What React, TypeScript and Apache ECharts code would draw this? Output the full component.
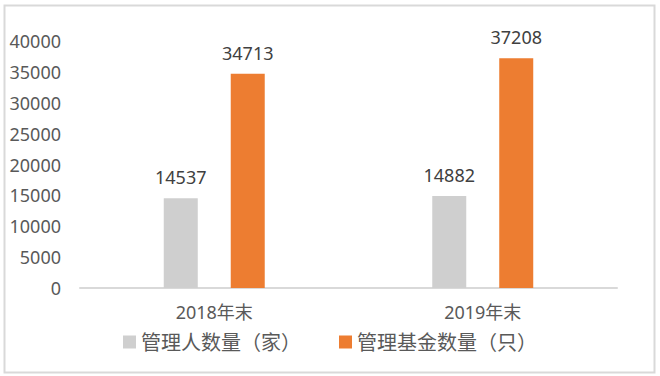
import React, { useEffect, useRef } from "react";
import * as echarts from "echarts";

const categories = ["2018年末", "2019年末"];
const managers = [14537, 14882];
const funds = [34713, 37208];
const seriesNames = ["管理人数量（家）", "管理基金数量（只）"];

const FONT = "'Noto Sans', 'Noto Sans CJK SC', sans-serif";

export default function App() {
  const ref = useRef<HTMLDivElement>(null);
  useEffect(() => {
    const chart = echarts.init(ref.current!, null, { renderer: "svg" });
    chart.setOption({
      animation: false,
      backgroundColor: "#ffffff",
      textStyle: { fontFamily: FONT },
      graphic: [
        {
          type: "rect",
          shape: { x: 4.5, y: 5.5, width: 650, height: 367 },
          style: { fill: "none", stroke: "#d9d9d9", lineWidth: 2 },
          silent: true,
        },
      ],
      grid: { left: 80, right: 43, top: 41, bottom: 88 },
      legend: {
        bottom: 19,
        left: "center",
        itemWidth: 13,
        itemHeight: 13,
        itemGap: 38,
        icon: "rect",
        textStyle: { fontSize: 20, color: "#595959", fontFamily: FONT },
        data: seriesNames,
      },
      xAxis: {
        type: "category",
        data: categories,
        axisLine: { lineStyle: { color: "#d9d9d9", width: 2 } },
        axisTick: { show: false },
        axisLabel: { fontSize: 18, color: "#595959", margin: 15, fontFamily: FONT },
      },
      yAxis: {
        type: "value",
        min: 0,
        max: 40000,
        interval: 5000,
        splitLine: { show: false },
        axisLine: { show: false },
        axisTick: { show: false },
        axisLabel: {
          fontSize: 18,
          color: "#595959",
          margin: 19,
          fontFamily: FONT,
          formatter: (v: number) => String(v),
        },
      },
      series: [
        {
          name: seriesNames[0],
          type: "bar",
          data: managers,
          barWidth: 34,
          barGap: "97%",
          itemStyle: { color: "#cfcfcf" },
          label: { show: true, position: "top", distance: 12, fontSize: 18, color: "#404040", fontFamily: FONT },
        },
        {
          name: seriesNames[1],
          type: "bar",
          data: funds,
          barWidth: 34,
          itemStyle: { color: "#ed7d31" },
          label: { show: true, position: "top", distance: 12, fontSize: 18, color: "#404040", fontFamily: FONT },
        },
      ],
    });
    return () => chart.dispose();
  }, []);
  return (
    <div
      ref={ref}
      style={{ position: "fixed", left: 0, top: 0, width: 660, height: 376 }}
    />
  );
}
